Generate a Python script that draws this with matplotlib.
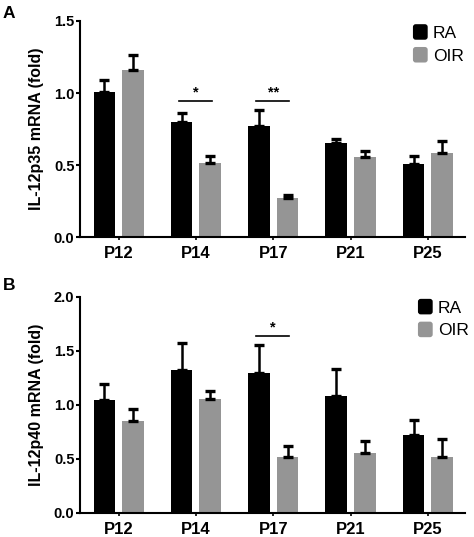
import matplotlib

matplotlib.use("Agg")

import matplotlib.pyplot as plt
import numpy as np
from matplotlib.legend_handler import HandlerPatch
from matplotlib.patches import FancyBboxPatch, Patch

plt.rcParams["font.family"] = ["Liberation Sans", "DejaVu Sans"]

days = ["P12", "P14", "P17", "P21", "P25"]
groups = ["RA", "OIR"]
colors = ["black", "#959595"]

# IL-12p35 (panel A)
p35_ra = [1.01, 0.80, 0.775, 0.655, 0.505]
p35_ra_err = [0.08, 0.065, 0.11, 0.03, 0.06]
p35_oir = [1.16, 0.515, 0.275, 0.555, 0.585]
p35_oir_err = [0.105, 0.05, 0.02, 0.045, 0.08]
p35_sig = [("P14", "*", 0.947), ("P17", "**", 0.947)]

# IL-12p40 (panel B)
p40_ra = [1.04, 1.32, 1.295, 1.085, 0.72]
p40_ra_err = [0.15, 0.25, 0.255, 0.245, 0.135]
p40_oir = [0.845, 1.055, 0.52, 0.55, 0.52]
p40_oir_err = [0.115, 0.07, 0.10, 0.115, 0.165]
p40_sig = [("P17", "*", 1.64)]


class RoundSquare(HandlerPatch):
    # legend swatch with slightly rounded corners
    def create_artists(self, legend, orig_handle, xdescent, ydescent,
                       width, height, fontsize, trans):
        p = FancyBboxPatch((-xdescent, -ydescent), width, height,
                           boxstyle="round,pad=0,rounding_size=2",
                           facecolor=orig_handle.get_facecolor(),
                           edgecolor="none", transform=trans)
        return [p]


fig = plt.figure(figsize=(4.74, 5.37), dpi=100)
ax_a = fig.add_axes([0.1688, 0.558, 0.812, 0.403])
ax_b = fig.add_axes([0.1688, 0.0453, 0.812, 0.4022])

x = np.arange(len(days))
w = 0.28
off = 0.185


def draw(ax, ra, ra_err, oir, oir_err, sig, ymax, ylabel, leg_anchor):
    for vals, errs, c, dx in [(ra, ra_err, colors[0], -off),
                              (oir, oir_err, colors[1], off)]:
        ax.bar(x + dx, vals, width=w, color=c, zorder=2)
        ax.errorbar(x + dx, vals, yerr=[np.zeros(len(vals)), errs], fmt="none",
                    ecolor="black", elinewidth=1.8, capsize=3.4, capthick=2.4,
                    zorder=3)
    for day, star, y in sig:
        i = days.index(day)
        ax.plot([i - 0.22, i + 0.21], [y, y], color="black", lw=1.2)
        ax.text(i, y + ymax * 0.004, star, ha="center", va="bottom",
                fontsize=10.5, fontweight="bold")
    ax.set_xlim(-0.5, 4.48)
    ax.set_ylim(0, ymax)
    ticks = np.arange(0, ymax + 0.01, 0.5)
    ax.set_yticks(ticks)
    ax.set_yticklabels([f"{v:.1f}" for v in ticks])
    ax.set_xticks(x)
    ax.set_xticklabels(days)
    for lab in ax.get_yticklabels():
        lab.set_fontweight("bold")
        lab.set_fontsize(10.5)
    for lab in ax.get_xticklabels():
        lab.set_fontweight("bold")
        lab.set_fontsize(12)
    ax.spines["top"].set_visible(False)
    ax.spines["right"].set_visible(False)
    ax.spines["left"].set_linewidth(1.5)
    ax.spines["bottom"].set_linewidth(1.5)
    ax.tick_params(axis="y", length=3, width=1.5, pad=1)
    ax.tick_params(axis="x", length=2.5, width=1.2, pad=4)
    ax.set_ylabel(ylabel, fontsize=11.5, fontweight="bold")
    ax.yaxis.set_label_coords(-0.094, 0.5)
    handles = [Patch(facecolor=c, label=g) for c, g in zip(colors, groups)]
    ax.legend(handles=handles, loc="upper left", bbox_to_anchor=leg_anchor,
              frameon=False, fontsize=12.5, handlelength=0.85,
              handleheight=1.0, handletextpad=0.3, labelspacing=0.35,
              borderpad=0, borderaxespad=0,
              handler_map={Patch: RoundSquare()})


draw(ax_a, p35_ra, p35_ra_err, p35_oir, p35_oir_err, p35_sig, 1.5,
     "IL-12p35 mRNA (fold)", (0.865, 0.985))
draw(ax_b, p40_ra, p40_ra_err, p40_oir, p40_oir_err, p40_sig, 2.0,
     "IL-12p40 mRNA (fold)", (0.878, 0.99))

fig.text(0.006, 0.988, "A", fontsize=12.5, fontweight="bold", va="top")
fig.text(0.006, 0.483, "B", fontsize=12.5, fontweight="bold", va="top")

fig.savefig("out.png", dpi=100)
